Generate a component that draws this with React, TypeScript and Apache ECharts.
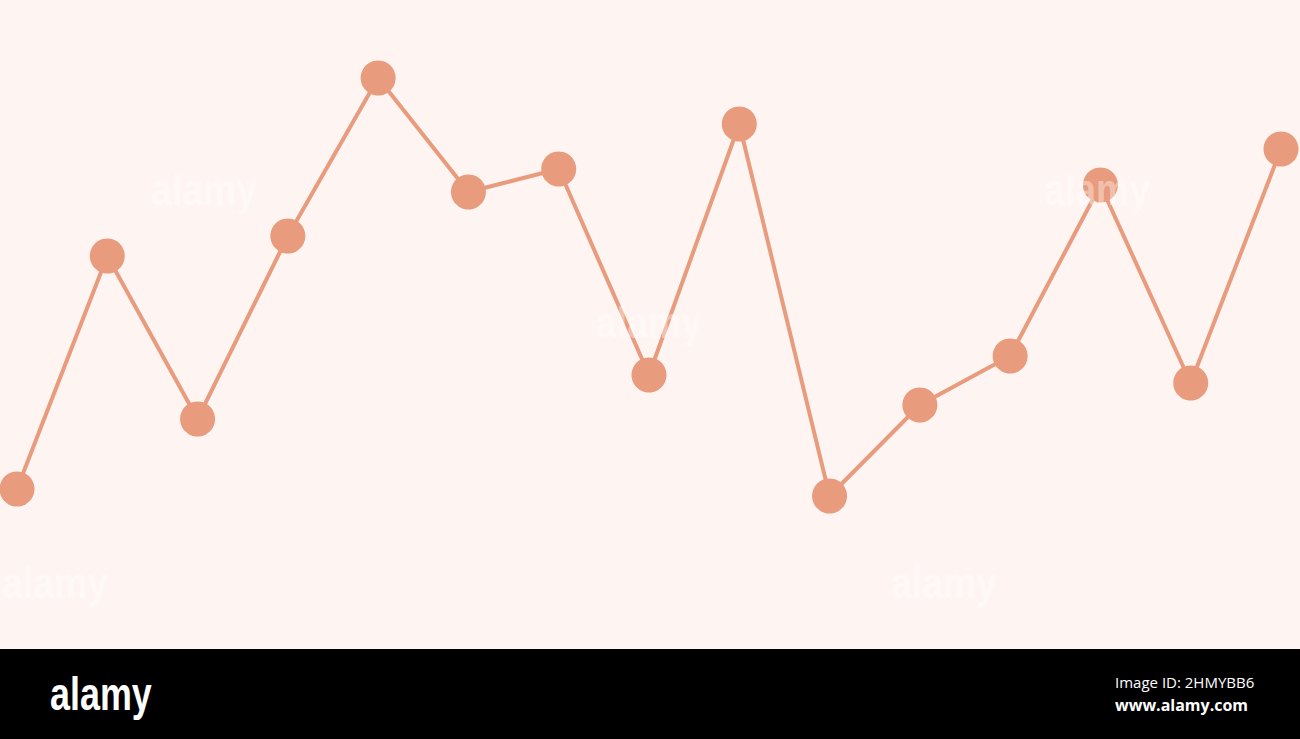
import { useRef, useEffect } from 'react'
import * as echarts from 'echarts'

const steps = ['1', '2', '3', '4', '5', '6', '7', '8', '9', '10', '11', '12', '13', '14', '15']
const values = [12, 58.6, 26, 62.6, 94.2, 71.4, 76, 34.8, 85, 10.6, 28.8, 38.6, 72.8, 33.2, 80]

const PEACH = '#E99B7D'
const BG = '#FEF5F2'

// faint stock watermarks scattered over the plot (left edge, middle)
const marks = [
  { x: 151, y: 190 },
  { x: 596, y: 323 },
  { x: 1044, y: 190 },
  { x: 2, y: 583 },
  { x: 891, y: 583 }
]

export default function App() {
  const chartRef = useRef<HTMLDivElement>(null)

  useEffect(() => {
    if (!chartRef.current) return
    const chart = echarts.init(chartRef.current, undefined, { renderer: 'svg' })

    const option: echarts.EChartsOption = {
      animation: false,
      backgroundColor: BG,
      grid: { left: 17, right: 19, top: 49, height: 500 },
      xAxis: {
        type: 'category',
        data: steps,
        boundaryGap: false,
        show: false
      },
      yAxis: { type: 'value', min: 0, max: 100, show: false },
      series: [
        {
          type: 'line',
          data: values,
          symbol: 'circle',
          symbolSize: 35,
          lineStyle: { color: PEACH, width: 4 },
          itemStyle: { color: PEACH, borderWidth: 0 },
          z: 2
        }
      ],
      graphic: [
        ...marks.map((m) => ({
          type: 'text' as const,
          x: m.x,
          y: m.y,
          scaleX: 0.85,
          z: 10,
          style: {
            text: 'alamy',
            fill: 'rgba(255,255,255,0.4)',
            font: 'bold 44px "Liberation Sans", sans-serif',
            verticalAlign: 'middle' as const
          }
        })),
        {
          type: 'rect',
          shape: { x: 0, y: 649, width: 1300, height: 90 },
          style: { fill: '#000' },
          z: 20
        },
        {
          type: 'text',
          x: 50,
          y: 694,
          scaleX: 0.78,
          z: 21,
          style: {
            text: 'alamy',
            fill: '#fff',
            font: 'bold 46px "Liberation Sans", Arial, sans-serif',
            verticalAlign: 'middle'
          }
        },
        {
          type: 'text',
          x: 1115,
          y: 682,
          z: 21,
          style: {
            text: 'Image ID: 2HMYBB6',
            fill: '#fff',
            font: '15px "Open Sans", "Noto Sans", sans-serif',
            verticalAlign: 'middle'
          }
        },
        {
          type: 'text',
          x: 1115,
          y: 705,
          z: 21,
          style: {
            text: 'www.alamy.com',
            fill: '#fff',
            font: 'bold 16px "Open Sans", "Noto Sans", sans-serif',
            verticalAlign: 'middle'
          }
        }
      ]
    }

    chart.setOption(option)
    return () => chart.dispose()
  }, [])

  return (
    <div
      ref={chartRef}
      style={{ position: 'fixed', left: 0, top: 0, width: '1300px', height: '739px' }}
    />
  )
}
